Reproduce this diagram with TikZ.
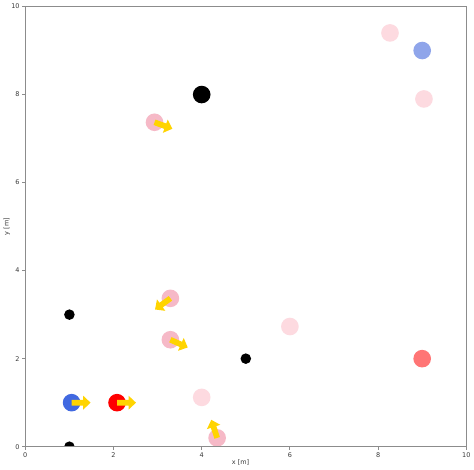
\documentclass[tikz,border=0pt]{standalone}
\usepackage{fontspec}
\setmainfont{DejaVu Sans}
\definecolor{axgray}{HTML}{8C8C8C}
\definecolor{ticktext}{HTML}{3A3A3A}
\definecolor{rblue}{HTML}{4169E1}
\definecolor{fblue}{HTML}{8FA5EA}
\definecolor{fred}{HTML}{FF7575}
\definecolor{apink}{HTML}{F6B9C7}
\definecolor{fpink}{HTML}{FDDAE0}
\definecolor{agold}{HTML}{FFD400}
\newcommand{\yarrow}[3]{%
  \begin{scope}[shift={(#1,#2)},rotate=#3]
    \fill[agold] (0,-0.065) -- (0.26,-0.065) -- (0.26,-0.16) -- (0.43,0) -- (0.26,0.16) -- (0.26,0.065) -- (0,0.065) -- cycle;
  \end{scope}}
\begin{document}
\begin{tikzpicture}[x=44.1pt,y=44.02pt,
  ticklab/.style={font=\fontsize{6.5}{7}\selectfont, text=ticktext, inner sep=0pt},
  axlab/.style={font=\fontsize{6.5}{7}\selectfont, text=ticktext, inner sep=0pt}]
\useasboundingbox (-0.574,-0.529) rectangle (10.175,10.148);
\fill[white] (-0.574,-0.529) rectangle (10.175,10.148);
\begin{scope}
\clip (0,0) rectangle (10,10);
% faded
\fill[fpink] (8.27,9.4) circle (0.2);
\fill[fpink] (9.04,7.9) circle (0.2);
\fill[fpink] (6.0,2.73) circle (0.2);
\fill[fpink] (4.0,1.12) circle (0.2);
\fill[fblue] (9.0,9.0) circle (0.2);
\fill[fred] (9.0,2.0) circle (0.2);
% obstacles
\fill[black] (4,8) circle (0.2);
\fill[black] (1,3) circle (0.12);
\fill[black] (5,2) circle (0.12);
\fill[black] (1,0) circle (0.12);
% agents
\fill[rblue] (1.05,1.0) circle (0.2);
\fill[red] (2.08,1.0) circle (0.2);
\fill[apink] (2.93,7.37) circle (0.2);
\fill[apink] (3.29,3.37) circle (0.2);
\fill[apink] (3.29,2.43) circle (0.2);
\fill[apink] (4.35,0.2) circle (0.2);
\yarrow{1.05}{1.0}{0}
\yarrow{2.08}{1.0}{0}
\yarrow{2.93}{7.37}{-20}
\yarrow{3.29}{3.37}{216}
\yarrow{3.29}{2.43}{-24}
\yarrow{4.35}{0.2}{108}
\end{scope}
% axes
\draw[axgray, line width=0.8pt] (0,0) rectangle (10,10);
\foreach \v in {0,2,4,6,8,10} {
  \draw[axgray, line width=0.8pt] (\v,0) -- ++(0,-3.5pt);
  \node[ticklab, anchor=north] (xt\v) at ([yshift=-6pt]\v,0) {\v};
  \draw[axgray, line width=0.8pt] (0,\v) -- ++(-3.5pt,0);
  \node[ticklab, anchor=east] (yt\v) at ([xshift=-5.5pt]0,\v) {\v};
}
\node[axlab] (xlabel) at (4.88,-0.35) {x [m]};
\node[axlab, rotate=90] (ylabel) at (-0.42,5.0) {y [m]};
\end{tikzpicture}
\end{document}
